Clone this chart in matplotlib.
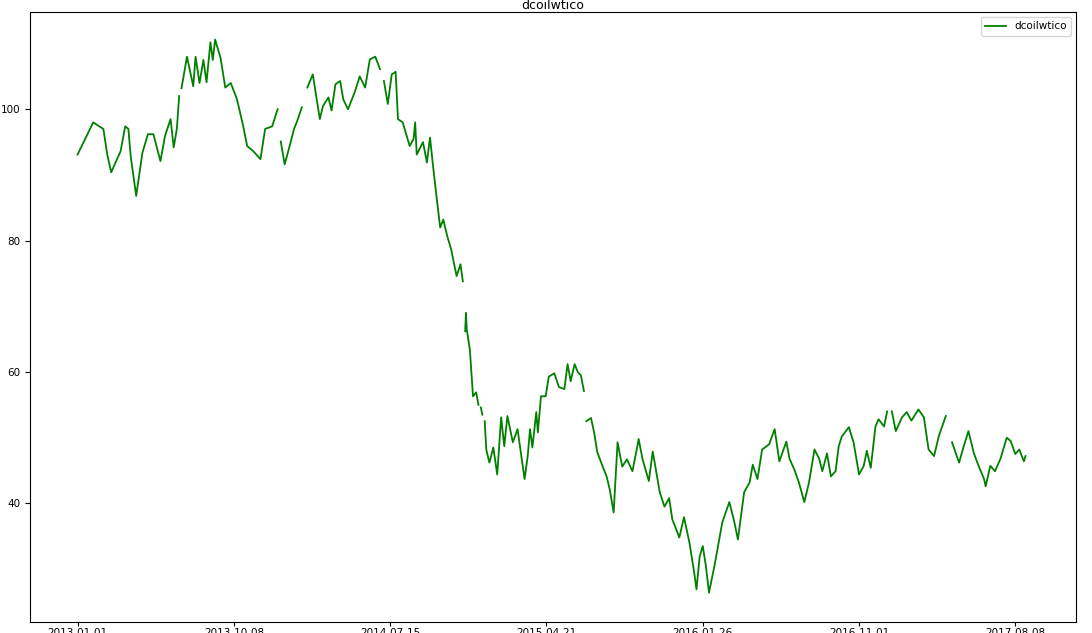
import numpy as np
import matplotlib
matplotlib.use("Agg")
import matplotlib.pyplot as plt

nan = np.nan
# row index (business-day position) and oil price; nan marks gaps
rows = [0,20,33,38,43,55,61,65,68,75,83,90,97,106,112,119,123,127,130,131,
        133,140,148,151,156,161,165,170,173,176,183,189,196,204,212,217,225,234,240,249,256,258,
        260,265,272,277,281,287,289,
        294,301,310,314,321,325,330,336,340,346,355,361,368,374,381,387,389,
        392,397,402,407,410,416,425,430,
        432,434,442,447,451,455,460,464,468,473,478,485,490,493,494,
        496,497,498,502,506,510,513,514,516,518,519,
        521,523,527,532,537,542,546,550,557,563,572,576,579,582,587,589,593,599,603,610,616,623,627,631,636,640,644,648,649,
        651,657,661,665,672,677,681,686,691,697,703,710,716,718,723,731,736,745,751,757,761,770,776,783,789,792,796,800,804,808,
        815,821,825,834,840,845,853,860,864,870,876,885,892,898,907,911,917,923,930,936,943,949,953,959,964,970,974,978,987,993,
        1000,1006,1010,1015,1021,1025,1032,1036,1038,
        1042,1047,1055,1061,1067,1076,1083,1089,1096,1102,1111,1114,
        1119,1128,1134,1140,1147,1153,1160,1162,1168,1174,1181,1189,1194,1200,1205,1211,1213]
values = [93.1,98.0,97.0,93.1,90.4,93.6,97.4,97.0,92.8,86.8,93.4,96.2,96.2,92.1,96.0,98.5,94.2,97.0,102.0,nan,
          103.2,108.0,103.5,108.0,104.0,107.5,104.1,110.2,107.5,110.6,107.8,103.3,104.0,101.5,97.4,94.4,93.6,92.4,97.0,97.4,100.0,nan,
          95.1,91.6,94.7,97.0,98.2,100.3,nan,
          103.3,105.3,98.5,100.5,101.8,99.8,103.8,104.3,101.5,100.0,102.7,105.0,103.3,107.6,108.0,106.1,nan,
          104.3,100.8,105.3,105.7,98.5,98.0,94.4,95.5,
          98.0,93.1,95.0,91.9,95.7,91.2,86.0,82.0,83.2,80.7,78.7,74.6,76.4,73.8,nan,
          66.2,69.0,66.5,63.4,56.3,56.9,55.0,nan,54.6,53.5,nan,
          52.5,48.2,46.2,48.5,44.4,53.1,48.7,53.3,49.3,51.3,43.7,47.2,51.3,48.5,53.9,50.8,56.3,56.3,59.3,59.8,57.7,57.4,61.2,58.6,61.2,60.0,59.5,57.1,nan,
          52.5,53.0,50.8,47.8,45.6,44.1,42.1,38.6,49.3,45.6,46.7,44.9,48.5,49.8,46.7,43.4,47.9,41.7,39.5,40.8,37.6,34.8,37.9,34.0,29.5,26.9,31.9,33.5,30.5,26.4,
          30.5,34.5,37.1,40.2,37.4,34.5,41.7,43.2,45.9,43.7,48.2,49.0,51.3,46.4,49.4,46.8,45.2,43.2,40.2,43.2,48.2,46.8,44.9,47.6,44.1,44.9,48.7,50.2,51.6,49.3,
          44.4,45.7,48.0,45.4,51.7,52.8,51.7,54.0,nan,
          54.0,51.0,53.1,53.9,52.6,54.3,53.1,48.2,47.2,50.2,53.3,nan,
          49.3,46.2,48.7,51.0,47.6,45.7,43.7,42.6,45.7,44.9,46.8,50.0,49.5,47.5,48.2,46.4,47.2]
tick_pos = [0, 200, 400, 600, 800, 1000, 1200]
tick_labels = ["2013-01-01", "2013-10-08", "2014-07-15", "2015-04-21",
               "2016-01-26", "2016-11-01", "2017-08-08"]
n_rows = 1218

fig = plt.figure(figsize=(10.92, 6.33), dpi=100)
ax = fig.add_axes([0.0275, 0.018, 0.958, 0.963])
ax.plot(rows, values, color="green", linewidth=1.3, label="dcoilwtico")
ax.set_xticks(tick_pos)
ax.set_xticklabels(tick_labels, fontsize=7.5)
ax.tick_params(axis="x", pad=1.5, length=3)
ax.tick_params(axis="y", labelsize=7.5)
m = (n_rows - 1) * 0.05
ax.set_xlim(-m, n_rows - 1 + m)
ax.set_ylim(22.0, 114.8)
ax.set_yticks([40, 60, 80, 100])
ax.set_title("dcoilwtico", fontsize=9, pad=2)
ax.legend(loc="upper right", fontsize=7.5)
fig.savefig("out.png", dpi=100)
